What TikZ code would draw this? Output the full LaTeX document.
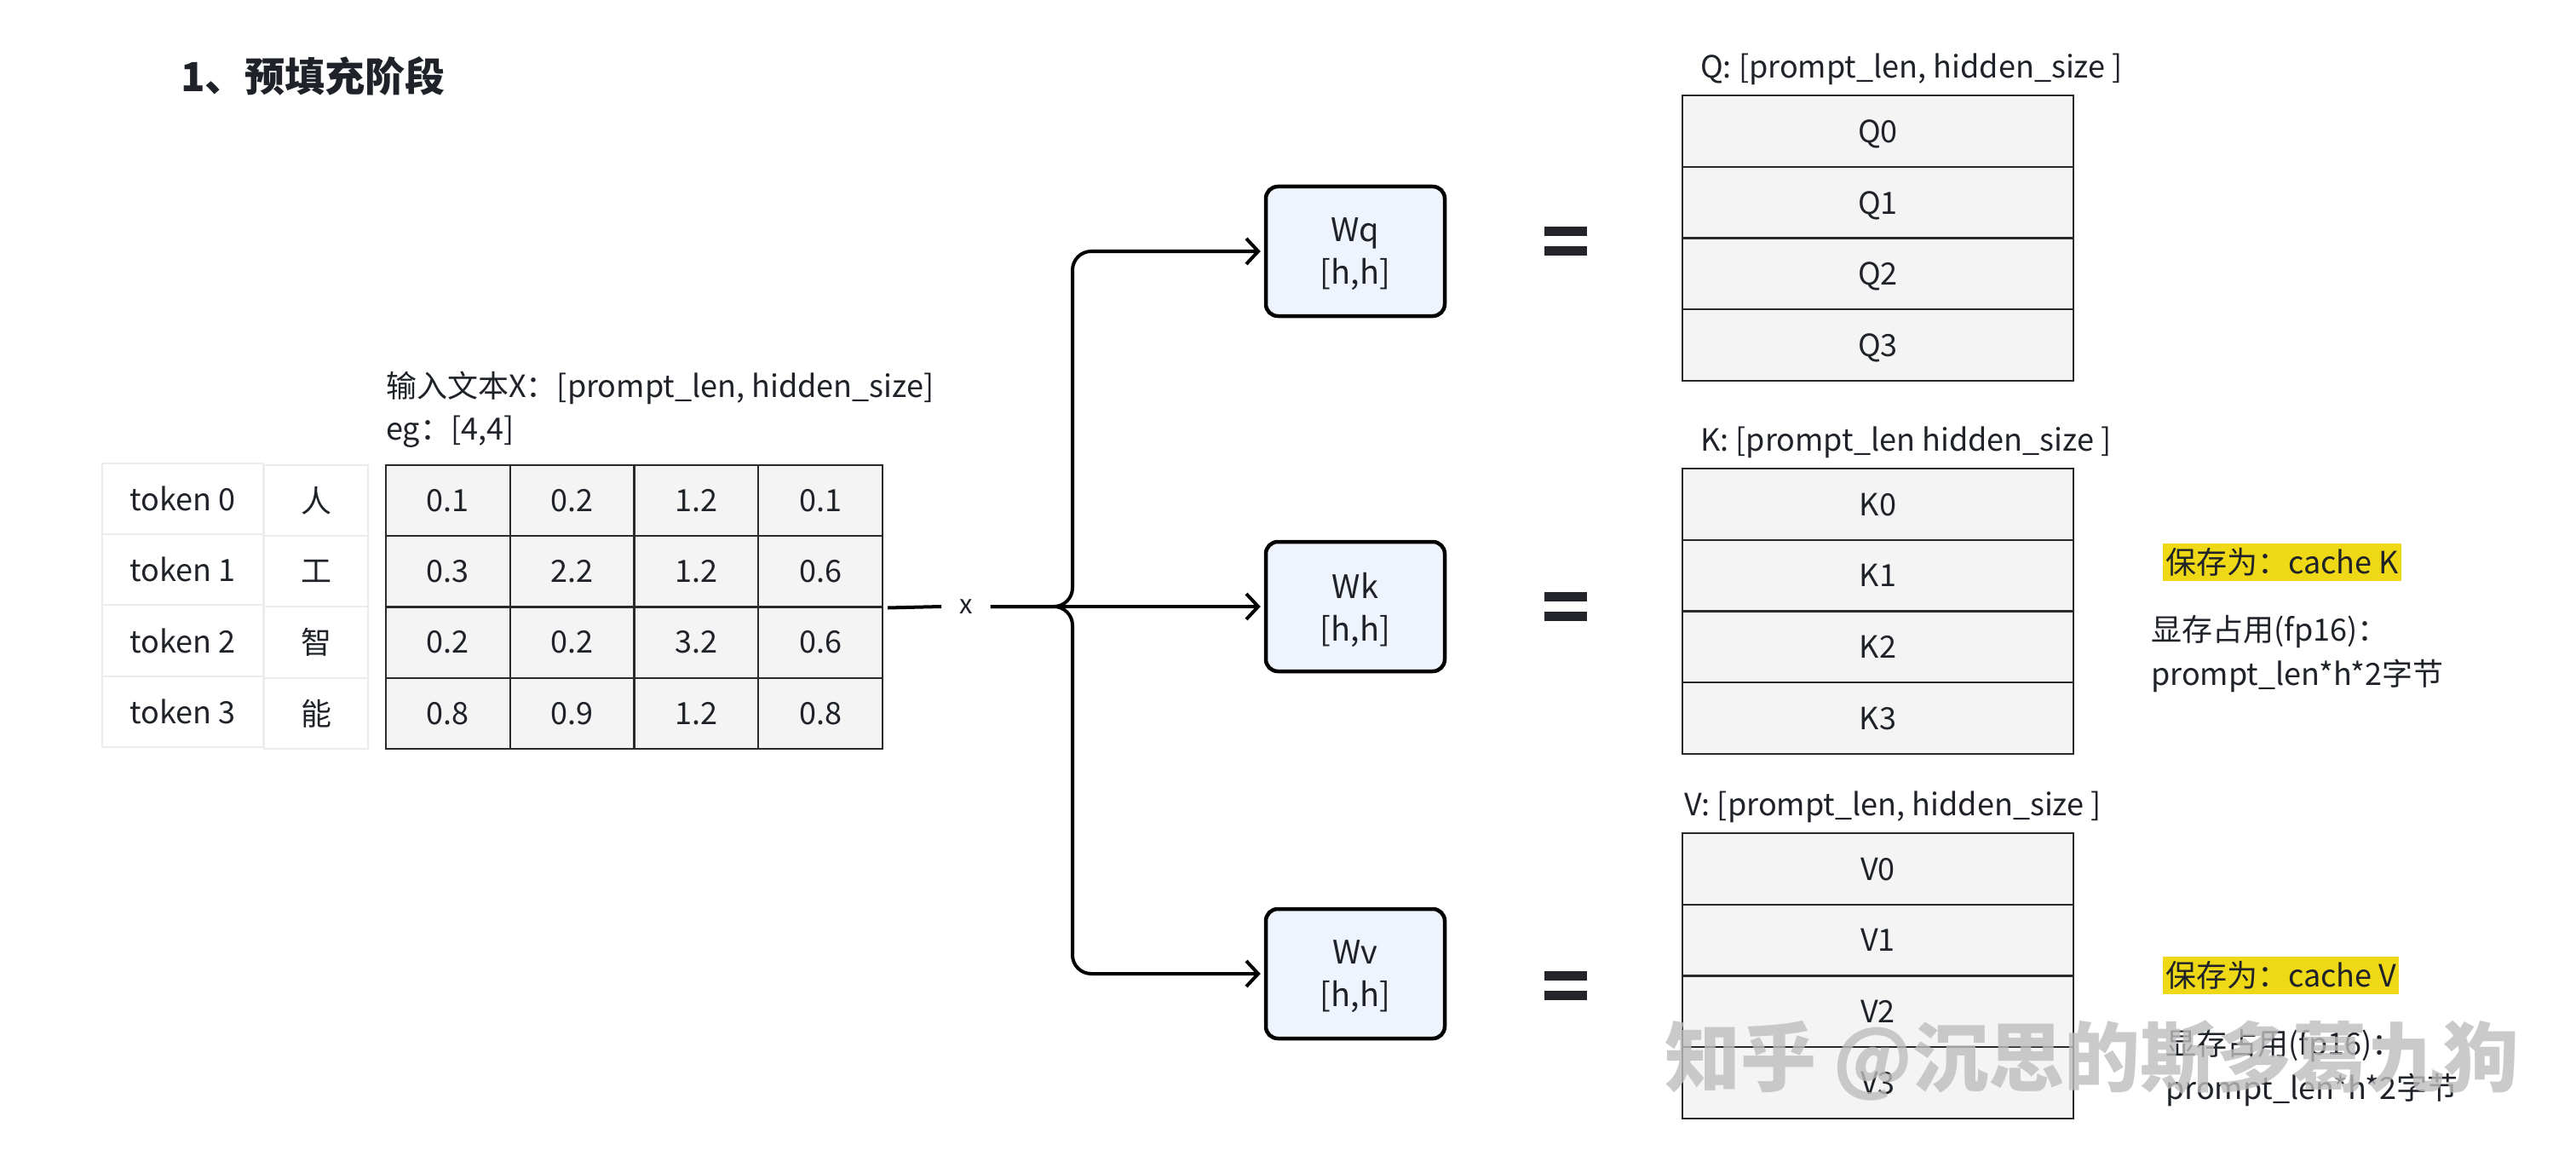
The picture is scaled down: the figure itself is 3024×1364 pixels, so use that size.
\documentclass[tikz,border=0pt]{standalone}
\usepackage{fontspec}
\setmainfont{Noto Sans CJK SC}
\usetikzlibrary{arrows.meta}
\definecolor{txt}{HTML}{1F2329}
\definecolor{cellfill}{HTML}{F4F4F4}
\definecolor{cellline}{HTML}{2A2A2A}
\definecolor{tokline}{HTML}{ECECEC}
\definecolor{wfill}{HTML}{EEF3FC}
\definecolor{hl}{HTML}{EFD816}
\definecolor{eqcol}{HTML}{24242B}
\definecolor{wm}{HTML}{BDBDBD}
\tikzset{
  every node/.style={text=txt},
  fs/.style={font=\fontsize{#1}{#1}\selectfont},
  mcell/.style={draw=cellline, fill=cellfill, line width=2.2pt, minimum width=145.75pt, minimum height=83.25pt, inner sep=0pt, fs=36},
  tcell/.style={draw=tokline, fill=white, line width=2pt, minimum width=#1, minimum height=83.25pt, inner sep=0pt, fs=36},
  qcell/.style={draw=cellline, fill=cellfill, line width=2.4pt, minimum width=459pt, minimum height=83.75pt, inner sep=0pt, text depth=0pt, fs=36},
  wbox/.style={draw=black, fill=wfill, line width=4.5pt, rounded corners=14pt, minimum width=210pt, minimum height=152pt, align=center, text depth=0pt, font=\fontsize{38}{50}\selectfont},
  lbl/.style={anchor=west, inner sep=0pt, fs=36},
  conn/.style={draw=black, line width=4pt},
  arr/.style={conn, -{Straight Barb[length=14pt, width=30pt, line width=4pt]}, shorten >=4pt},
}
\begin{document}
\begin{tikzpicture}[x=1pt,y=-1pt]
\useasboundingbox (0,0) rectangle (3024,1364);
\fill[white] (0,0) rectangle (3024,1364);

% title
\node[anchor=west, inner sep=0pt, font=\fontsize{47}{50}\selectfont\bfseries] (title) at (212,89) {1、预填充阶段};

% input label
\node[lbl] (inlbl) at (453,455) {输入文本X：[prompt\_len, hidden\_size]};
\node[lbl] (eglbl) at (453,507) {eg：[4,4]};

% token table
\foreach \r/\ch in {0/人,1/工,2/智,3/能}{
  \node[tcell=189pt] (tk\r) at (214.5,{544+83.25*\r+41.6}) {token \r};
  \node[tcell=122pt] (ch\r) at (371,{546+83.25*\r+41.6}) {\ch};
}

% matrix X
\foreach \r/\a/\b/\c/\d in {1/0.1/0.2/1.2/0.1, 2/0.3/2.2/1.2/0.6, 3/0.2/0.2/3.2/0.6, 4/0.8/0.9/1.2/0.8}{
  \node[mcell] (m-\r-1) at ({453+145.75*0.5},{546+83.25*(\r-0.5)}) {\a};
  \node[mcell] (m-\r-2) at ({453+145.75*1.5},{546+83.25*(\r-0.5)}) {\b};
  \node[mcell] (m-\r-3) at ({453+145.75*2.5},{546+83.25*(\r-0.5)}) {\c};
  \node[mcell] (m-\r-4) at ({453+145.75*3.5},{546+83.25*(\r-0.5)}) {\d};
}

% x label and connectors
\node[fs=31, inner xsep=21pt, inner ysep=4pt] (xl) at (1134,712) {x};
\coordinate (bus) at (1259,712);

\node[wbox] (wq) at (1591,295) {Wq\\{[h,h]}};
\node[wbox] (wk) at (1591,712) {Wk\\{[h,h]}};
\node[wbox] (wv) at (1591,1143) {Wv\\{[h,h]}};

\draw[conn, shorten <=5pt] (m-2-4.south east) -- (xl.west);
\draw[arr] (xl.east) -- (wk.west);
\draw[arr, rounded corners=22pt] (xl.east) -- (bus) |- (wq.west);
\draw[arr, rounded corners=22pt] (xl.east) -- (bus) |- (wv.west);

% equals signs
\foreach \n/\y in {eqq/283, eqk/712, eqv/1157}{
  \coordinate (\n) at (1838,\y);
  \fill[eqcol] ([xshift=-25pt,yshift=-17pt]\n) rectangle ([xshift=25pt,yshift=-6pt]\n);
  \fill[eqcol] ([xshift=-25pt,yshift=6pt]\n) rectangle ([xshift=25pt,yshift=17pt]\n);
}

% Q K V blocks
\foreach \L/\top in {Q/112, K/550, V/978}{
  \foreach \i in {0,...,3}{
    \node[qcell] (\L\i) at (2204.5,{\top+83.75*\i+41.875}) {\L\i};
  }
}
\node[lbl] (qlbl) at (1996,81) {Q: [prompt\_len, hidden\_size ]};
\node[lbl] (klbl) at (1996,519) {K: [prompt\_len hidden\_size ]};
\node[lbl] (vlbl) at (1977,947) {V: [prompt\_len, hidden\_size ]};

% cache notes
\node[lbl, fill=hl, inner xsep=3pt, inner ysep=5pt] (ck) at (2539,660) {保存为：cache K};
\node[lbl] (mk1) at (2525,741) {显存占用(fp16)：};
\node[lbl] (mk2) at (2525,793) {prompt\_len*h*2字节};

\node[lbl, fill=hl, inner xsep=3pt, inner ysep=5pt] (cv) at (2539,1145) {保存为：cache V};
\node[lbl] (mv1) at (2542,1227) {显存占用(fp16)：};
\node[lbl] (mv2) at (2542,1279) {prompt\_len*h*2字节};

% watermark
\node[anchor=west, inner sep=0pt, text=wm, opacity=0.8, font=\fontsize{89}{89}\selectfont\bfseries] (wmk) at (1954,1245) {知乎 @沉思的斯多葛九狗};
\end{tikzpicture}
\end{document}
